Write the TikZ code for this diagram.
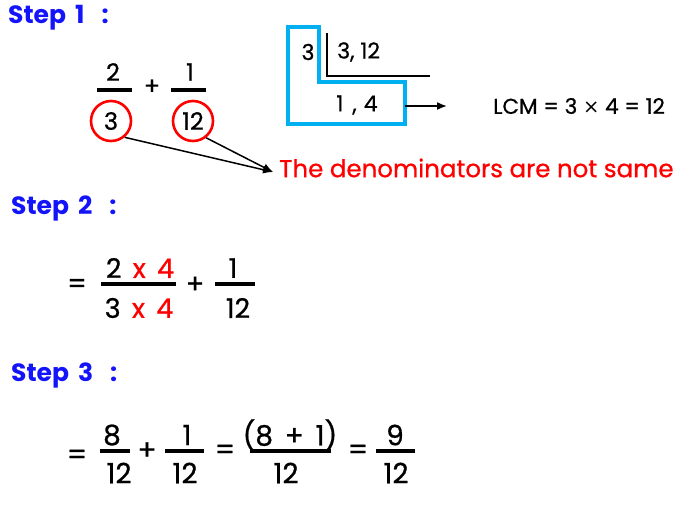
\documentclass[tikz,border=0pt]{standalone}
\usepackage{fontspec}
\setmainfont{Poppins}[FakeBold=0.6]
\newfontfamily\medfont{Poppins}[FakeBold=0.7]
\newfontfamily\boldfont{Poppins Bold}
\newfontfamily\symfont{DejaVu Sans}
\usetikzlibrary{arrows.meta}
\definecolor{stepblue}{RGB}{20,20,250}
\definecolor{lblue}{RGB}{0,176,240}
\definecolor{myred}{RGB}{255,0,0}
\newcommand{\fs}[1]{\fontsize{#1}{#1}\selectfont}
\newcommand{\widesp}{\spaceskip=0.42em\relax}
\newcommand{\steptext}[1]{Step\hspace{9pt}#1\hspace{17pt}:}
\begin{document}
\begin{tikzpicture}[x=1pt,y=-1pt,
  steplabel/.style={font=\boldfont\fs{25}, text=stepblue, anchor=west, inner sep=0},
  numA/.style={font=\medfont\fs{24}, inner sep=0},
  numB/.style={font=\medfont\fs{27}\widesp, inner sep=0},
  numC/.style={font=\medfont\fs{28}\widesp, inner sep=0},
  small/.style={font=\medfont\fs{21.5}, inner sep=0},
  fbar/.style={line width=3.5pt},
  ring/.style={circle, draw=myred, line width=2.6pt, minimum size=40pt, inner sep=0, font=\medfont\fs{24}},
  pointer/.style={line width=1.5pt, -{Latex[length=10pt,width=8pt]}},
  lshape/.style={draw=lblue, line width=3.5pt},
  divline/.style={line width=1.8pt}
]
\useasboundingbox (0,0) rectangle (676,504);

% Step 1
\node[steplabel] (s1) at (8,18) {\steptext{1}};
\node[numA] (n1) at (113,72) {2};
\draw[fbar] (97,90) -- (132,90);
\node[numA] (p1) at (152,87) {+};
\node[numA] (n2) at (190,72) {1};
\draw[fbar] (171,90) -- (206,90);
\node[ring] (c1) at (111,121) {3};
\node[ring] (c2) at (193,121) {12};
\node[font=\medfont\fs{24.5}, text=myred, anchor=west, inner sep=0] (den) at (279,168) {The denominators are not same};
\coordinate (tip) at (273,172);
\draw[pointer] (c1.-50) -- (tip);
\draw[pointer] (c2.-52) -- (tip);

% LCM division
\draw[lshape] (288,27) -- (319,27) -- (319,82) -- (405,82) -- (405,124) -- (288,124) -- cycle;
\draw[divline] (327,33) -- (327,76) -- (430,76);
\node[small, font=\medfont\fs{22}] (d3) at (308,52) {3};
\node[small, font=\medfont\fs{22}, anchor=west] (d312) at (337,52) {3, 12};
\node[small, font=\medfont\fs{22}] (d14) at (357,105) {1\hspace{9pt},\hspace{7pt}4};
\coordinate (la) at (405,106);
\coordinate (lb) at (447,106);
\draw[pointer, line width=1.6pt] (la) -- (lb);
\node[small, anchor=west] (lcm) at (493,106) {LCM = 3 {\symfont\fs{19.5}×} 4 = 12};

% Step 2
\node[steplabel] (s2) at (11,208) {\steptext{2}};
\node[numB] (e2) at (77,286) {=};
\node[numB] (n3) at (140,268) {2 \textcolor{myred}{x 4}};
\draw[fbar] (101,284) -- (176,284);
\node[numB] (d3b) at (139,308) {3 \textcolor{myred}{x 4}};
\node[numB] (p2) at (195,285) {+};
\node[numB] (n4) at (233,268) {1};
\draw[fbar] (215,284) -- (255,284);
\node[numB] (d4) at (238,308) {12};

% Step 3
\node[steplabel] (s3) at (11,375) {\steptext{3}};
\node[numC] (e3) at (77,457) {=};
\node[numC] (n5) at (112,435) {8};
\draw[fbar] (100,451) -- (130,451);
\node[numC] (d5) at (119,473) {12};
\node[numC] (p3) at (147,451) {+};
\node[numC] (n6) at (187,435) {1};
\draw[fbar] (165,451) -- (204,451);
\node[numC] (d6) at (185,473) {12};
\node[numC] (e4) at (225,452) {=};
\node[numC] (n7) at (290,435) {(8 + 1)};
\draw[fbar] (250,451) -- (331,451);
\node[numC] (d7) at (286,473) {12};
\node[numC] (e5) at (358,452) {=};
\node[numC] (n8) at (395,435) {9};
\draw[fbar] (376,451) -- (415,451);
\node[numC] (d8) at (396,473) {12};
\end{tikzpicture}
\end{document}
